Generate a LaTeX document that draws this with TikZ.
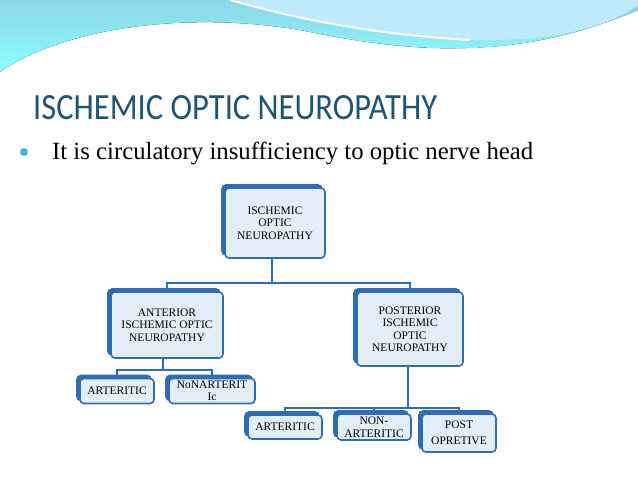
\documentclass[tikz,border=0pt]{standalone}
\usepackage{fontspec}
\setmainfont{Liberation Serif}
\newfontfamily\titlefont{Carlito}
\usetikzlibrary{shadows}
\definecolor{bblue}{HTML}{2E6DB4}
\definecolor{bfill}{HTML}{E3EEF8}
\definecolor{ttl}{HTML}{1F5573}
\definecolor{bul}{HTML}{3FB8D8}
\begin{document}
\begin{tikzpicture}[x=1pt,y=-1pt,
  box/.style={draw=bblue,line width=1.6pt,fill=bfill,rounded corners=4pt,align=center,
    font=\fontsize{11.5}{12.5}\selectfont,inner sep=1pt,
    copy shadow={shadow xshift=-3pt,shadow yshift=3pt,fill=bblue,draw=bblue}},
  conn/.style={bblue,line width=1.4pt}]
\useasboundingbox (0,0) rectangle (638,479);
% background waves
\fill[top color=bul!60!white,bottom color=cyan!45!white] (0,0) -- (638,0) -- (638,10)
  .. controls (520,60) and (420,55) .. (300,30) .. controls (180,10) and (60,30) .. (0,72) -- cycle;
\fill[white] (0,76) .. controls (60,34) and (180,15) .. (300,34) .. controls (420,55) and (520,58) .. (638,14) -- (638,22) .. controls (520,62) and (420,62) .. (300,38) .. controls (180,20) and (60,40) .. (0,80);
\fill[cyan!25!white] (230,0) .. controls (300,20) and (380,35) .. (470,40) .. controls (560,42) and (610,25) .. (638,5) -- (638,0) -- cycle;
\draw[white,line width=2pt] (230,0) .. controls (300,20) and (380,35) .. (470,40);
% title
\node[anchor=west,text=ttl,inner sep=0] (title) at (33,108) {\resizebox{404pt}{24pt}{\titlefont ISCHEMIC OPTIC NEUROPATHY}};
\fill[bul] (24,152) circle (4);
\node[anchor=west,inner sep=0] (bt) at (52,153) {\resizebox{481pt}{!}{\fontsize{20}{22}\selectfont It is circulatory insufficiency to optic nerve head}};
% boxes
\node[box,minimum width=100pt,minimum height=70pt] (top) at (275,223) {ISCHEMIC\\OPTIC\\NEUROPATHY};
\node[box,minimum width=112pt,minimum height=66pt] (ant) at (167,325) {ANTERIOR\\ISCHEMIC OPTIC\\NEUROPATHY};
\node[box,minimum width=106pt,minimum height=74pt] (post) at (410,329) {POSTERIOR\\ISCHEMIC\\OPTIC\\NEUROPATHY};
\node[box,minimum width=74pt,minimum height=25pt] (a1) at (117,391) {ARTERITIC};
\node[box,minimum width=86pt,minimum height=25pt] (a2) at (212,391) {NoNARTERIT\\Ic};
\node[box,minimum width=74pt,minimum height=24pt] (p1) at (285,427) {ARTERITIC};
\node[box,minimum width=74pt,minimum height=26pt] (p2) at (374,427) {NON-\\ARTERITIC};
\node[box,minimum width=74pt,minimum height=38pt] (p3) at (459,433) {POST\\[3pt]OPRETIVE};
% connectors
\coordinate (j1) at (272,283);
\draw[conn] (top.south -| j1) -- (j1);
\draw[conn] (ant.north) |- (j1) -| (post.north);
\coordinate (j2) at (163,370);
\draw[conn] (ant.south -| j2) -- (j2);
\draw[conn] (a1.north) |- (j2) -| (a2.north);
\coordinate (j3) at (408,408);
\draw[conn] (post.south -| j3) -- (j3);
\draw[conn] (p1.north) |- (j3) -| (p3.north);
\draw[conn] (p2.north) -- (p2.north |- j3);
\end{tikzpicture}
\end{document}
